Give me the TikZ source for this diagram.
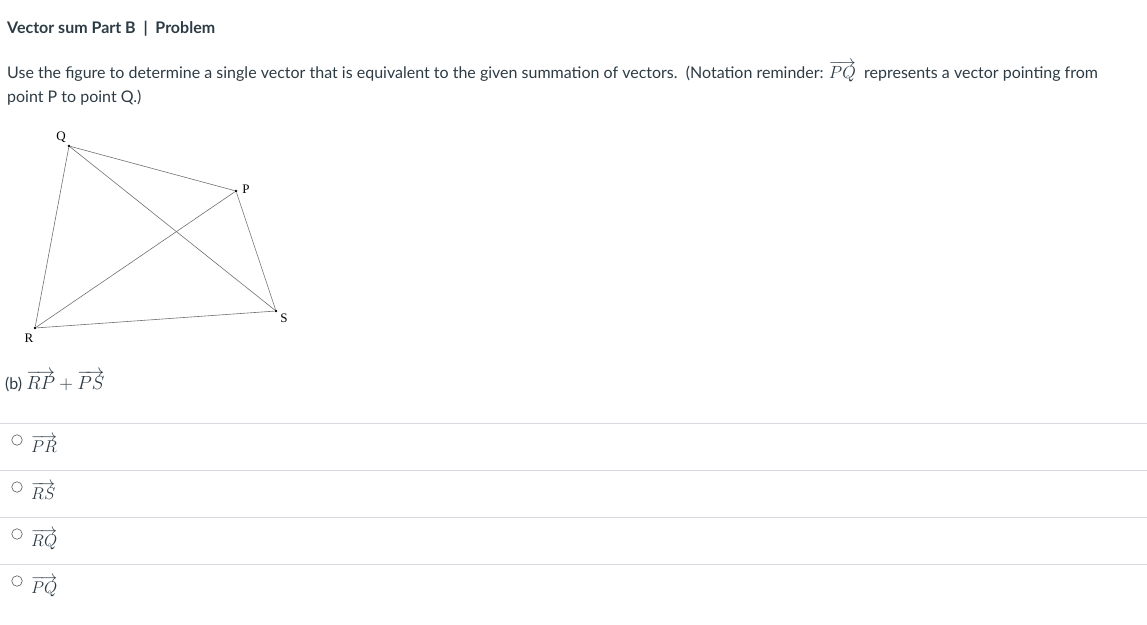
\RequirePackage{fix-cm}
\documentclass[tikz,border=0pt]{standalone}
\usepackage{fontspec}
\setmainfont{Lato}
\newfontfamily\figfont{Liberation Serif}
\definecolor{txt}{HTML}{2D3B45}
\definecolor{rule}{HTML}{D7DADE}
\definecolor{edge}{HTML}{707070}
\newcommand{\mathbig}[1]{{\fontsize{17.5}{20}\selectfont$#1$}}
\begin{document}
\begin{tikzpicture}[x=1pt,y=-1pt,
  body/.style={anchor=base west,inner sep=0pt,text=txt,font=\fontsize{16}{19}\selectfont},
  title/.style={body,font=\fontsize{16}{19}\selectfont\bfseries},
  opt/.style={anchor=base west,inner sep=0pt,text=txt,font=\fontsize{17}{20}\selectfont},
  ptlab/.style={inner sep=0pt,font=\figfont\fontsize{13}{15}\selectfont},
  edgeline/.style={draw=edge,line width=0.6pt},
  dot/.style={circle,fill=black,inner sep=0pt,minimum size=2.6pt},
  sep/.style={draw=rule,line width=0.8pt},
  radio/.style={circle,draw=gray!70!black,line width=0.6pt,inner sep=0pt,minimum size=10.5pt}]
\useasboundingbox (0,0) rectangle (1147,624);
% header
\node[title] (ttl) at (7,33) {Vector sum Part B\ \ |\ \ Problem};
\node[body] (l1) at (7,78) {Use the figure to determine a single vector that is equivalent to the given summation of vectors.\ \ (Notation reminder: \mathbig{\overrightarrow{PQ}}\ \ represents a vector pointing from};
\node[body] (l2) at (7,102) {point P to point Q.)};
% figure
\node[dot] (Q) at (69,146) {};
\node[dot] (P) at (236,191) {};
\node[dot] (S) at (276,311) {};
\node[dot] (R) at (35,328) {};
\draw[edgeline] (Q) -- (P) -- (S) -- (R) -- (Q);
\draw[edgeline] (Q) -- (S);
\draw[edgeline] (R) -- (P);
\node[ptlab] (lQ) at (61,137) {Q};
\node[ptlab] (lP) at (246,189) {P};
\node[ptlab] (lS) at (284,318) {S};
\node[ptlab] (lR) at (29,338) {R};
% question
\node[body] (qb) at (5,389) {(b) {\fontsize{19}{22}\selectfont$\overrightarrow{RP}+\overrightarrow{PS}$}};
% separators
\draw[sep] (0,423) -- (1147,423);
\draw[sep] (0,470) -- (1147,470);
\draw[sep] (0,517) -- (1147,517);
\draw[sep] (0,564) -- (1147,564);
% options
\node[radio] (r1) at (17,440) {};
\node[radio] (r2) at (17,487) {};
\node[radio] (r3) at (17,534) {};
\node[radio] (r4) at (17,581) {};
\node[opt] (o1) at (31,452) {$\overrightarrow{PR}$};
\node[opt] (o2) at (31,499) {$\overrightarrow{RS}$};
\node[opt] (o3) at (31,546) {$\overrightarrow{RQ}$};
\node[opt] (o4) at (31,593) {$\overrightarrow{PQ}$};
\end{tikzpicture}
\end{document}
